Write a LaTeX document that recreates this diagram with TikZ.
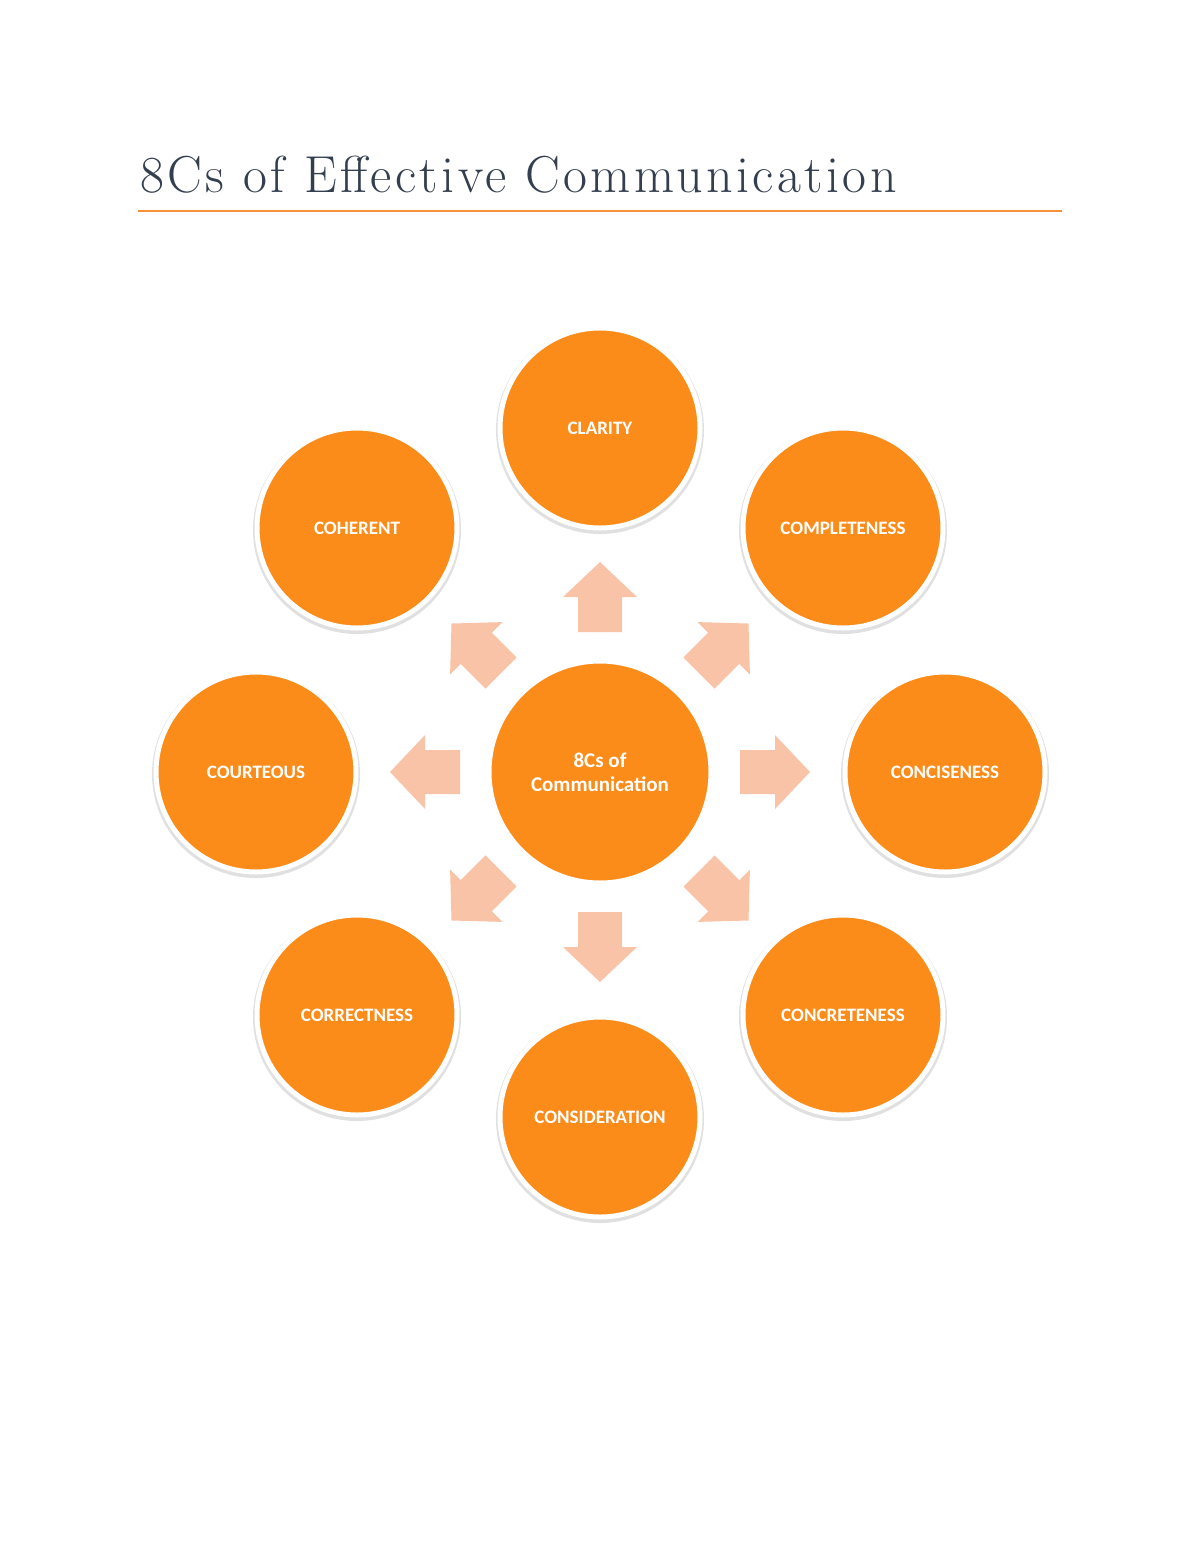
\documentclass[tikz,border=0pt]{standalone}
\usepackage{fontspec}
\newfontfamily\carl{Carlito}
\newfontfamily\ttlfont[LetterSpace=6.5]{Latin Modern Roman}
\definecolor{cor}{HTML}{FB8C19}
\definecolor{peach}{HTML}{F9C3A7}
\definecolor{ttl}{HTML}{333E4F}
\definecolor{ln}{HTML}{F7923A}
\begin{document}
\begin{tikzpicture}[x=0.5pt,y=-0.5pt,
  cnode/.style={circle,fill=cor,draw=white,line width=2.5pt,minimum size=200*0.5pt,inner sep=0pt,text=white,font=\carl\bfseries\fontsize{9.5}{11}\selectfont,align=center},
  shadowc/.style={fill=black!12}]
\useasboundingbox (0,0) rectangle (1200,1553);
\node[anchor=base west,text=ttl,font=\ttlfont\fontsize{26}{30}\selectfont,inner sep=0pt] (title) at (140,192) {8Cs of Effective Communication};
\draw[ln,line width=1.2pt] (138,211) -- (1062,211);
% arrows
\foreach \a in {0,45,...,315}{
  \fill[peach,shift={(600,772)},rotate=\a]
    (140,-22) -- (175,-22) -- (175,-37) -- (210,0) -- (175,37) -- (175,22) -- (140,22) -- cycle;
}
% shadows
\foreach \p in {(600,772),(600,428),(843,528),(945,772),(843,1015),(600,1117),(357,1015),(256,772),(357,528)}{
  \fill[shadowc] \p ++(0,2) circle[radius=104];
}
\node[cnode,minimum size=222*0.5pt,font=\carl\bfseries\fontsize{10.5}{12}\selectfont] (c) at (600,772) {8Cs of\\Communication};
\node[cnode] (clar) at (600,428) {CLARITY};
\node[cnode] (comp) at (843,528) {COMPLETENESS};
\node[cnode] (conc) at (945,772) {CONCISENESS};
\node[cnode] (conr) at (843,1015) {CONCRETENESS};
\node[cnode] (cons) at (600,1117) {CONSIDERATION};
\node[cnode] (corr) at (357,1015) {CORRECTNESS};
\node[cnode] (cour) at (256,772) {COURTEOUS};
\node[cnode] (cohe) at (357,528) {COHERENT};
\end{tikzpicture}
\end{document}
